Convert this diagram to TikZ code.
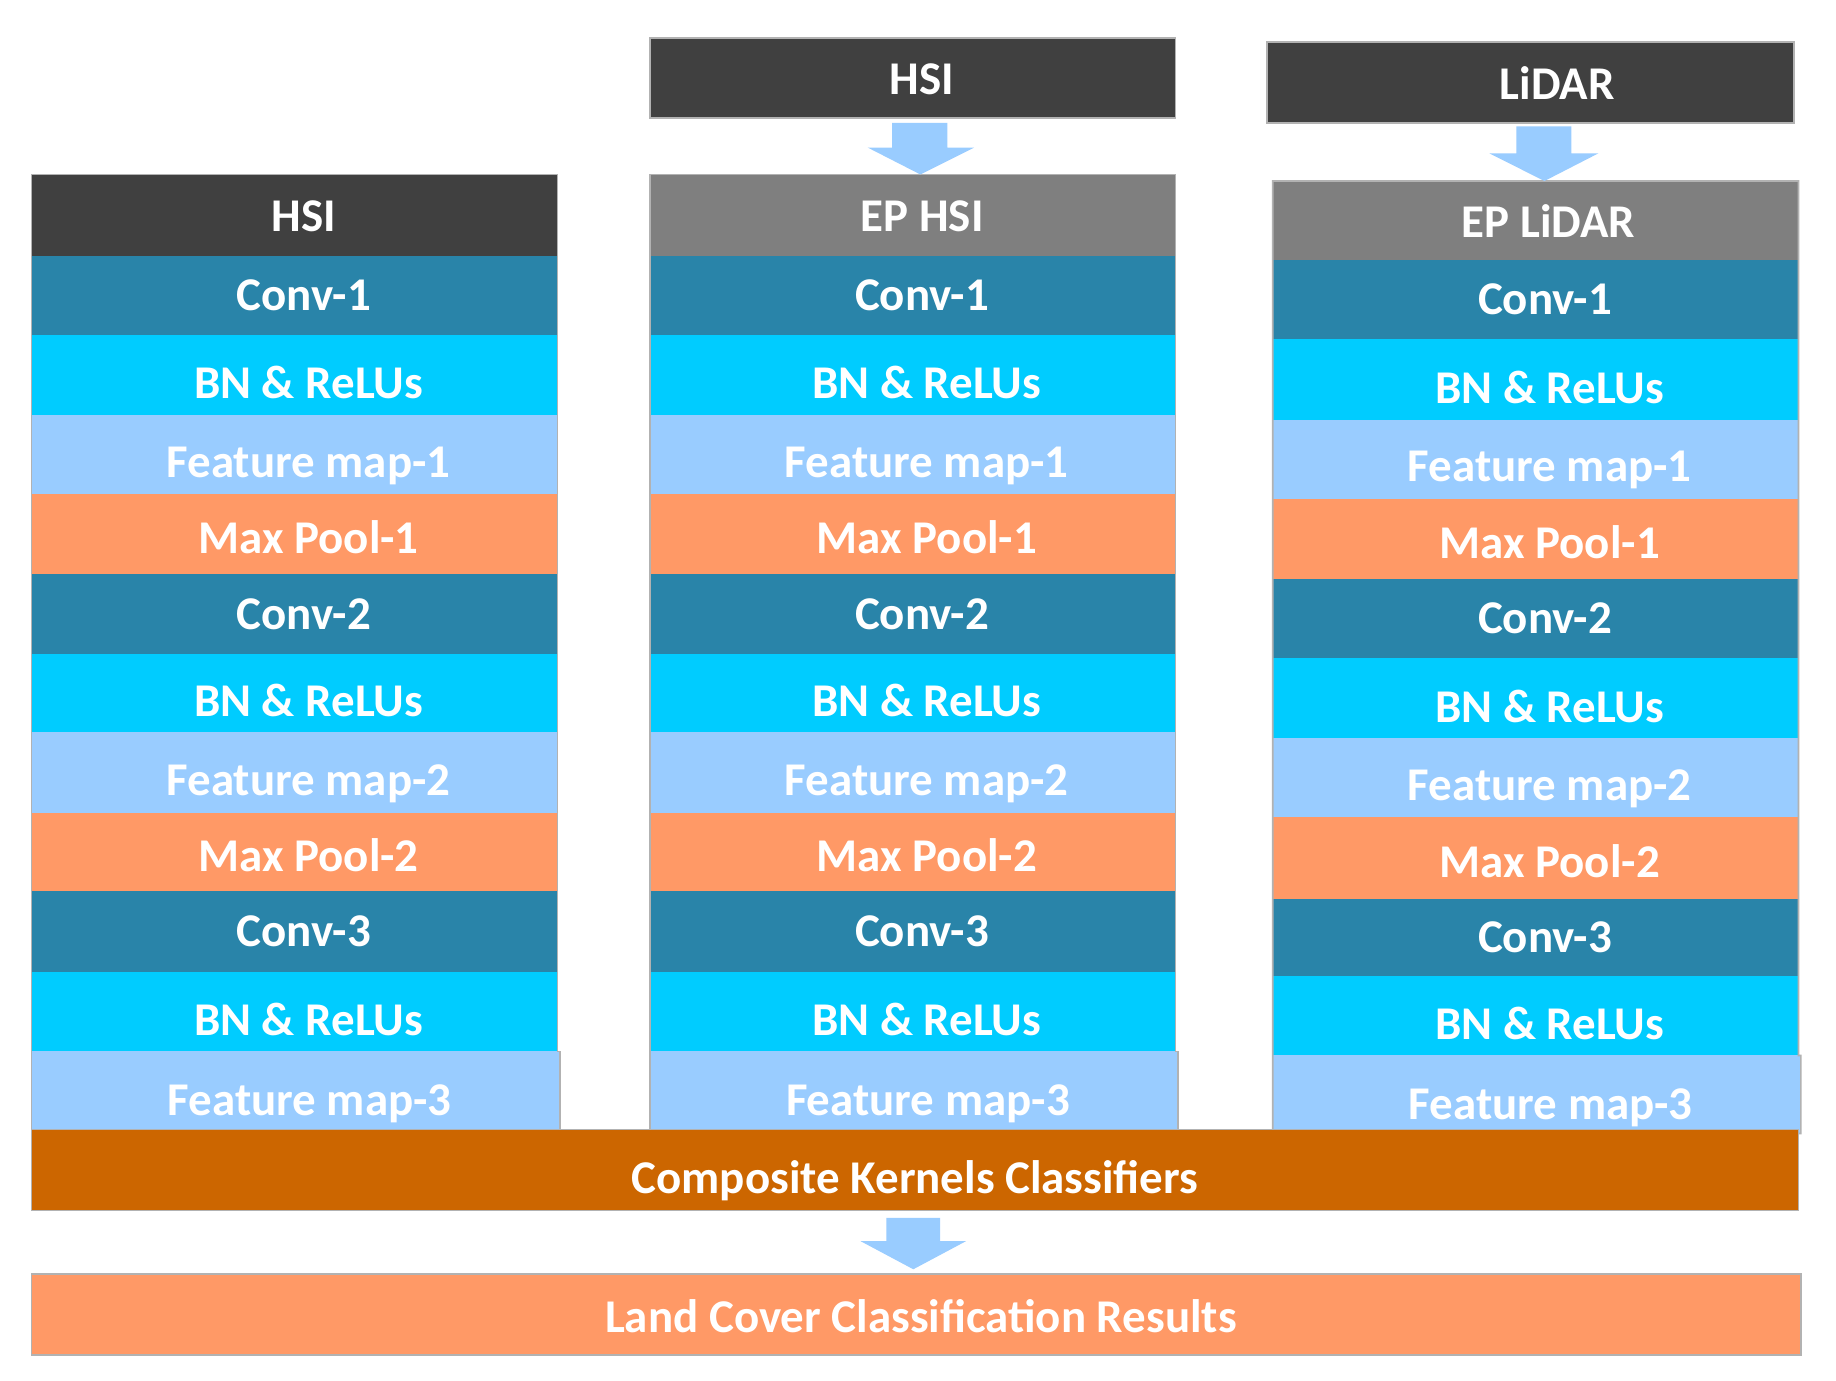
\documentclass[tikz,border=0pt]{standalone}
\usepackage{fontspec}
\setmainfont{Carlito}
\definecolor{hdrc}{HTML}{404040}
\definecolor{epc}{HTML}{7F7F7F}
\definecolor{convc}{HTML}{2984A9}
\definecolor{bnc}{HTML}{00CCFF}
\definecolor{fmc}{HTML}{99CCFF}
\definecolor{mpc}{HTML}{FF9966}
\definecolor{compc}{HTML}{CC6600}
\definecolor{landc}{HTML}{FF9966}
\definecolor{arrc}{HTML}{99CCFF}
\newcommand\mydiafont{\fontsize{11.4pt}{13pt}\selectfont\bfseries}
\newcommand\lrow[7]{\node[#2, minimum width={(#5-#3)*0.01cm}, minimum height={(#6-#4)*0.01cm}] (#1) at ({(#3+#5)/2},{(#4+#6)/2}) {#7};}
\begin{document}
\begin{tikzpicture}[x=0.01cm,y=-0.01cm,
  base/.style={inner sep=0pt, outer sep=0pt, text=white, font=\mydiafont, draw=none, text depth=0.05cm},
  shs/.style={execute at begin node={\hspace*{0.16cm}}},
  shl/.style={execute at begin node={\hspace*{0.24cm}}},
  hdr/.style={base, shs, fill=hdrc, text height=0.334cm},
  ephdr/.style={base, shs, fill=epc, text height=0.334cm},
  conv/.style={base, shs, fill=convc, text height=0.308cm},
  bn/.style={base, shl, fill=bnc, text height=0.458cm},
  fm/.style={base, shl, fill=fmc, text height=0.43cm},
  fmthree/.style={base, shl, fill=fmc, text height=0.47cm},
  mp/.style={base, shl, fill=mpc, text height=0.378cm},
  comp/.style={base, fill=compc, text height=0.458cm},
  land/.style={base, fill=landc, text height=0.37cm, execute at begin node={\hspace*{0.08cm}}},
  frame/.style={draw=black!30, line width=0.4pt},
  blockarrow/.style={fill=arrc, draw=none}]
\useasboundingbox[fill=white] (0,0) rectangle (1568,1179);

% top input boxes
\lrow{tophsi}{hdr}{555}{32.4}{1004}{100.8}{HSI}
\lrow{toplidar}{hdr,execute at begin node={\hspace*{0.30cm}}}{1082}{36}{1532}{105}{LiDAR}
\draw[frame] (tophsi.north west) rectangle (tophsi.south east);
\draw[frame] (toplidar.north west) rectangle (toplidar.south east);

% column 1
\lrow{a0}{hdr}{27}{149}{476}{218.4}{HSI}
\lrow{a1}{conv}{27}{218.4}{476}{285.7}{Conv-1}
\lrow{a2}{bn}{27}{285.7}{476}{354.7}{BN \& ReLUs}
\lrow{a3}{fm}{27}{354.7}{476}{422.3}{Feature map-1}
\lrow{a4}{mp}{27}{422.3}{476}{490.6}{Max Pool-1}
\lrow{a5}{conv}{27}{490.6}{476}{558.2}{Conv-2}
\lrow{a6}{bn}{27}{558.2}{476}{625.2}{BN \& ReLUs}
\lrow{a7}{fm}{27}{625.2}{476}{694.7}{Feature map-2}
\lrow{a8}{mp}{27}{694.7}{476}{761.2}{Max Pool-2}
\lrow{a9}{conv}{27}{761.2}{476}{830.5}{Conv-3}
\lrow{a10}{bn}{27}{830.5}{476}{898.0}{BN \& ReLUs}
\lrow{a11}{fmthree}{27}{898.0}{478}{964.6}{Feature map-3}
\draw[frame] (a0.north west) -- (a0.north east) -- (a10.south east) -- (a11.north east) -- (a11.south east) -- (a11.south west) -- cycle;

% column 2
\lrow{b0}{ephdr}{555}{149}{1004}{218.4}{EP HSI}
\lrow{b1}{conv}{555}{218.4}{1004}{285.7}{Conv-1}
\lrow{b2}{bn}{555}{285.7}{1004}{354.7}{BN \& ReLUs}
\lrow{b3}{fm}{555}{354.7}{1004}{422.3}{Feature map-1}
\lrow{b4}{mp}{555}{422.3}{1004}{490.6}{Max Pool-1}
\lrow{b5}{conv}{555}{490.6}{1004}{558.2}{Conv-2}
\lrow{b6}{bn}{555}{558.2}{1004}{625.2}{BN \& ReLUs}
\lrow{b7}{fm}{555}{625.2}{1004}{694.7}{Feature map-2}
\lrow{b8}{mp}{555}{694.7}{1004}{761.2}{Max Pool-2}
\lrow{b9}{conv}{555}{761.2}{1004}{830.5}{Conv-3}
\lrow{b10}{bn}{555}{830.5}{1004}{898.0}{BN \& ReLUs}
\lrow{b11}{fmthree}{555}{898.0}{1006}{964.6}{Feature map-3}
\draw[frame] (b0.north west) -- (b0.north east) -- (b10.south east) -- (b11.north east) -- (b11.south east) -- (b11.south west) -- cycle;

% column 3
\lrow{c0}{ephdr,execute at begin node={\hspace*{0.06cm}}}{1087}{154.6}{1536}{222.3}{EP LiDAR}
\lrow{c1}{conv}{1087}{222.3}{1536}{289.2}{Conv-1}
\lrow{c2}{bn}{1087}{289.2}{1536}{358.6}{BN \& ReLUs}
\lrow{c3}{fm}{1087}{358.6}{1536}{425.9}{Feature map-1}
\lrow{c4}{mp}{1087}{425.9}{1536}{494.8}{Max Pool-1}
\lrow{c5}{conv}{1087}{494.8}{1536}{562.2}{Conv-2}
\lrow{c6}{bn}{1087}{562.2}{1536}{630.7}{BN \& ReLUs}
\lrow{c7}{fm}{1087}{630.7}{1536}{698.1}{Feature map-2}
\lrow{c8}{mp}{1087}{698.1}{1536}{767.4}{Max Pool-2}
\lrow{c9}{conv}{1087}{767.4}{1536}{833.9}{Conv-3}
\lrow{c10}{bn}{1087}{833.9}{1536}{901.4}{BN \& ReLUs}
\lrow{c11}{fmthree}{1087}{901.4}{1538}{968}{Feature map-3}
\draw[frame] (c0.north west) -- (c0.north east) -- (c10.south east) -- (c11.north east) -- (c11.south east) -- (c11.south west) -- cycle;

% classifier and result
\lrow{comp}{comp}{27}{964.6}{1536}{1033.7}{Composite Kernels Classifiers}
\lrow{land}{land}{27}{1087.8}{1538}{1157}{Land Cover Classification Results}
\draw[frame] (comp.north west) rectangle (comp.south east);
\draw[frame] (land.north west) rectangle (land.south east);

% block arrows
\begin{scope}[shift={(b0.north)}]
  \fill[blockarrow] (-17.5,-44) -- (29.5,-44) -- (29.5,-23) -- (52.5,-23) -- (6.5,0) -- (-38.5,-23) -- (-17.5,-23) -- cycle;
\end{scope}
\begin{scope}[shift={(c0.north)}]
  \fill[blockarrow] (-16.5,-46.6) -- (30.5,-46.6) -- (30.5,-23.6) -- (53.5,-23.6) -- (7.5,0) -- (-39.5,-23.6) -- (-16.5,-23.6) -- cycle;
\end{scope}
\begin{scope}[shift={(comp.south)}]
  \fill[blockarrow] (-24.5,6.3) -- (21.5,6.3) -- (21.5,26.3) -- (43.5,26.3) -- (-1.5,50.3) -- (-46.5,26.3) -- (-24.5,26.3) -- cycle;
\end{scope}
\end{tikzpicture}
\end{document}
